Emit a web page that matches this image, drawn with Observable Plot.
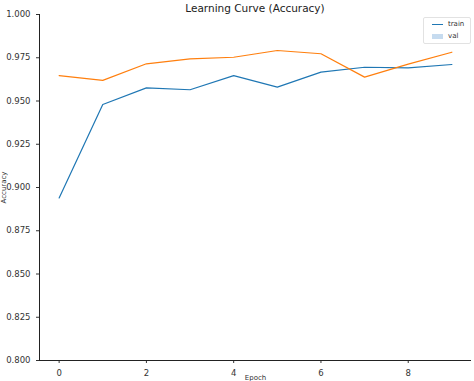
<!DOCTYPE html>
<html><head><meta charset="utf-8">
<script src="https://cdn.jsdelivr.net/npm/d3@7"></script>
<script src="https://cdn.jsdelivr.net/npm/@observablehq/plot@0.6"></script>
<style>
body{margin:0;background:#fff;font-family:"DejaVu Sans",sans-serif;}
#wrap{position:relative;width:474px;height:381px;overflow:hidden;}
#title{position:absolute;left:39px;width:432px;top:1px;text-align:center;font-size:10.5px;color:#222;line-height:14px;}
#legend{position:absolute;left:423px;top:17px;width:46px;height:25px;border:1px solid #e2e2e2;border-radius:2px;background:rgba(255,255,255,0.85);font-size:7px;color:#333;}
.row{position:absolute;left:8px;display:flex;align-items:center;line-height:9px;}
.sw{width:11px;margin-right:5px;}
</style></head>
<body><div id="wrap"><div id="title">Learning Curve (Accuracy)</div><div id="legend">
<div class="row" style="top:2px"><div class="sw" style="height:0;border-top:1.3px solid #1f77b4"></div>train</div>
<div class="row" style="top:14px"><div class="sw" style="height:5px;background:#c6dbef"></div>val</div>
</div></div>
<script>
const epochs = [0,1,2,3,4,5,6,7,8,9];
const trainAcc = [0.894,0.948,0.9576,0.9565,0.9647,0.958,0.9667,0.9695,0.9692,0.9711];
const valAcc = [0.9647,0.9619,0.9715,0.9744,0.9753,0.9792,0.9773,0.9638,0.9713,0.9782];
const yTicks = [0.800,0.825,0.850,0.875,0.900,0.925,0.950,0.975,1.000];
const xTicks = [0,2,4,6,8];

const rows = [];
epochs.forEach((e,i)=>{rows.push({epoch:e,acc:trainAcc[i],series:"train"});rows.push({epoch:e,acc:valAcc[i],series:"val"});});

const chart = Plot.plot({
  width:474, height:381,
  marginLeft:39, marginRight:3, marginTop:14, marginBottom:21,
  style:{fontFamily:"DejaVu Sans, sans-serif",fontSize:"8.5px",color:"#333",background:"transparent"},
  x:{domain:[-0.45,9.45],ticks:xTicks,tickSize:3,label:"Epoch",labelAnchor:"center",labelArrow:"none",labelOffset:19},
  y:{domain:[0.8,1.0],ticks:yTicks,tickSize:3,tickFormat:d3.format(".3f"),label:"Accuracy",labelAnchor:"center",labelArrow:"none",labelOffset:38},
  color:{domain:["train","val"],range:["#1f77b4","#ff7f0e"]},
  marks:[
    Plot.ruleX([-0.45],{stroke:"#222",strokeWidth:1}),
    Plot.ruleY([0.8],{stroke:"#222",strokeWidth:1}),
    Plot.line(rows,{x:"epoch",y:"acc",z:"series",stroke:"series",strokeWidth:1.2})
  ]
});
document.getElementById("wrap").prepend(chart);
chart.style.position="absolute";chart.style.left="0";chart.style.top="0";
chart.querySelectorAll("g[aria-label$='axis label'] text").forEach(t=>{t.style.fontSize="7px";});
</script></body></html>
